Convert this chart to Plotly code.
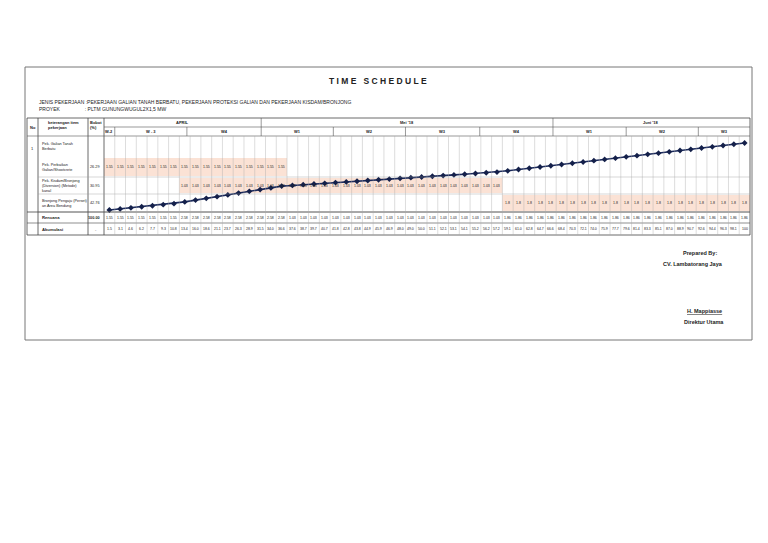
import plotly.graph_objects as go

N = 60
akumulasi = [1.5,3.1,4.6,6.2,7.7,9.3,10.8,13.4,16.0,18.6,21.1,23.7,26.3,28.9,31.5,34.0,36.6,37.6,38.7,39.7,
             40.7,41.8,42.8,43.8,44.9,45.9,46.9,48.0,49.0,50.0,51.1,52.1,53.1,54.1,55.2,56.2,57.2,59.1,61.0,62.8,
             64.7,66.6,68.4,70.3,72.1,74.0,75.9,77.7,79.6,81.4,83.3,85.1,87.0,88.9,90.7,92.6,94.4,96.3,98.1,100]
rencana = ["1.55"]*7 + ["2.58"]*10 + ["1.03"]*20 + ["1.86"]*23
row_items = ["Pek. Galian Tanah<br>Berbatu", "Pek. Perbaikan<br>Galian/Shootcrete",
             "Pek. Kisdam/Bronjong<br>(Diversion) (Metode)<br>kanal", "Bronjong Pengaju (Perset)<br>an Area Bendung"]
row_bobot = ["", "26.29", "30.95", "42.76"]
row_cells = [(None, None, ""), (1, 17, "1.55"), (8, 37, "1.03"), (38, 60, "1.8")]
months = ["APRIL", "Mei '18", "Juni '18"]
month_bounds = [0, 14.6, 41.7, 60]
weeks = ["W-2", "W - 3", "W4", "W1", "W2", "W3", "W4", "W1", "W2", "W3"]
week_bounds = [0, 1, 7.7, 14.6, 21.3, 28, 34.9, 41.7, 48.5, 55.2, 60]

X0, CW = 104, 646 / 60
OFF = 8
def cx(px): return (px - X0) / CW
Y_TOP, Y_MID, Y_HB = 118, 127, 136
row_bounds = [136, 157, 177, 194, 212]
Y_REN, Y_AKU, Y_END = 212, 223, 235

fig = go.Figure()
shapes, ann = [], []
def line(x0, y0, x1, y1, c="#555", w=0.6):
    shapes.append(dict(type="line", xref="x", yref="y", x0=x0, y0=y0, x1=x1, y1=y1, line=dict(color=c, width=w)))
def rect(x0, y0, x1, y1, fill=None, c="#555", w=0.6):
    shapes.append(dict(type="rect", xref="x", yref="y", x0=x0, y0=y0, x1=x1, y1=y1, layer="below",
                       fillcolor=fill or "rgba(0,0,0,0)", line=dict(color=c, width=w)))
def txt(x, y, t, s=4, xa="center", bold=False, color="#222"):
    if bold: t = "<b>" + t + "</b>"
    ann.append(dict(x=x, y=y, xref="x", yref="y", text=t, showarrow=False, xanchor=xa, yanchor="middle",
                    font=dict(size=s, color=color, family="Arial"), align="left"))

rect(cx(25), 67, cx(752), 340, c="#777", w=1)
txt(cx(378), 81, "<b>T I M E   S C H E D U L E</b>", 8.5)
txt(cx(37), 102, "JENIS PEKERJAAN :PEKERJAAN GALIAN TANAH BERBATU, PEKERJAAN PROTEKSI GALIAN DAN PEKERJAAN KISDAM/BRONJONG", 5, "left")
txt(cx(37), 109, "PROYEK                  : PLTM GUNUNGWUGUL2X1,5 MW", 5, "left")

for r, (a, b, v) in enumerate(row_cells):
    if a is None: continue
    rect(a - 1, row_bounds[r] + 1, b, row_bounds[r + 1] - 1, fill="#fbe2d5", c="rgba(0,0,0,0)")
    for c in range(a, b + 1):
        txt(c - 0.5, (row_bounds[r] + row_bounds[r + 1]) / 2, v, 3.5)

rect(cx(27), Y_TOP, N, Y_END, c="#444", w=0.8)
for xp in [38, 88, X0]:
    line(cx(xp), Y_TOP, cx(xp), Y_END, "#444", 0.8)
line(0, Y_MID, N, Y_MID)
line(cx(27), Y_HB, N, Y_HB)
for yb in row_bounds[2:]:
    line(cx(38), yb, N, yb, "#999", 0.4)
line(cx(27), Y_REN, N, Y_REN, "#444", 0.8)
line(cx(27), Y_AKU, N, Y_AKU, "#444", 0.6)
for c in range(1, N):
    line(c, Y_HB, c, Y_END, "#aaa", 0.4)
for wb in week_bounds[1:-1]:
    line(wb, Y_MID, wb, Y_HB, "#555", 0.6)
for mb in month_bounds[1:-1]:
    line(mb, Y_TOP, mb, Y_MID, "#555", 0.6)
for i, m in enumerate(months):
    txt((month_bounds[i] + month_bounds[i + 1]) / 2, (Y_TOP + Y_MID) / 2, m, 4, bold=True)
for i, w in enumerate(weeks):
    txt((week_bounds[i] + week_bounds[i + 1]) / 2, (Y_MID + Y_HB) / 2, w, 4, bold=True)
txt(cx(32.5), 127, "No", 4, bold=True)
txt(cx(63), 125, "keterangan item<br>pekerjaan", 4, bold=True)
txt(cx(96), 125, "Bobot<br>(%)", 4, bold=True)
txt(cx(32.5), 148, "1", 4)
for r in range(4):
    txt(cx(40), (row_bounds[r] + row_bounds[r + 1]) / 2, row_items[r], 3.8, "left")
    txt(cx(102), (row_bounds[r] + row_bounds[r + 1]) / 2, row_bobot[r], 3.8, "right")
txt(cx(40), (Y_REN + Y_AKU) / 2, "Rencana", 4.2, "left", bold=True)
txt(cx(102), (Y_REN + Y_AKU) / 2, "100.00", 3.8, "right", bold=True)
txt(cx(40), (Y_AKU + Y_END) / 2, "Akumulasi", 4.2, "left", bold=True)
txt(cx(96), (Y_AKU + Y_END) / 2, "-", 4)
for c in range(N):
    txt(c + 0.5, (Y_REN + Y_AKU) / 2, rencana[c], 3.5)
    a = akumulasi[c]
    txt(c + 0.5, (Y_AKU + Y_END) / 2, "100" if a == 100 else f"{a:.1f}", 3.5)

txt(cx(700), 253, "Prepared By:", 5.5, bold=True)
txt(cx(693), 264, "CV. Lambatorang Jaya", 5.5, bold=True)
txt(cx(704), 311, "<u>H. Mappiasse</u>", 5.5, bold=True)
txt(cx(704), 322, "Direktur Utama", 5.5, bold=True)

fig.add_trace(go.Scatter(x=[c + 0.5 for c in range(N)], y=akumulasi, yaxis="y2", mode="lines+markers",
                         line=dict(color="#1b2a5c", width=1.6), marker=dict(size=4.5, color="#14204a", symbol="diamond"),
                         hoverinfo="skip", showlegend=False))

ppu = (211 - 143) / 100
fig.update_layout(width=768, height=543, margin=dict(l=0, r=0, t=0, b=0), paper_bgcolor="white", plot_bgcolor="white",
                  shapes=shapes, annotations=ann, showlegend=False,
                  xaxis=dict(range=[cx(OFF), cx(768 + OFF)], visible=False, fixedrange=True),
                  yaxis=dict(range=[543 + OFF, OFF], visible=False, fixedrange=True),
                  yaxis2=dict(range=[-(543 + OFF - 211) / ppu, (211 - OFF) / ppu], overlaying="y", visible=False))
fig.write_html("out.html")
